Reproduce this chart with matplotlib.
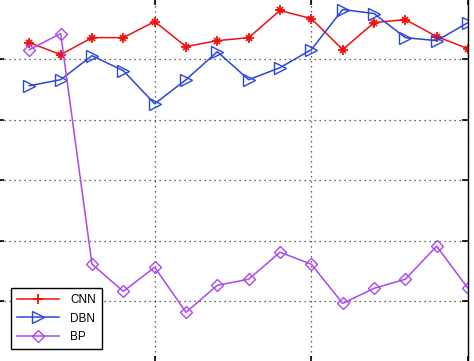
import numpy as np
from matplotlib import pyplot as plt

# sample index along x
x = np.arange(1, 16)

# values (y axis labels are cropped away)
cnn = [96.36, 95.37, 96.77, 96.77, 98.10, 96.03, 96.52, 96.77, 99.01, 98.34,
       95.78, 98.01, 98.26, 96.86, 95.86]
dbn = [92.80, 93.30, 95.28, 94.04, 91.31, 93.30, 95.61, 93.30, 94.29, 95.78,
       99.09, 98.76, 96.77, 96.52, 98.01]
bp = [95.78, 97.10, 78.07, 75.83, 77.82, 74.10, 76.33, 76.83, 79.06, 78.07,
      74.84, 76.08, 76.83, 79.56, 76.08]

labels = ["CNN", "DBN", "BP"]

plt.rcParams['font.family'] = ['Liberation Sans', 'DejaVu Sans']

W, H = 474, 361
fig = plt.figure(figsize=(W / 100, H / 100), dpi=100)
# the original figure is cropped: axes run past the top, left and bottom edges
ax = fig.add_axes([-2 / W, -1 / H, 470 / W, 363.5 / H])

red = '#f01010'
# MATLAB-style asterisk = plus + cross on top of each other
ax.plot(x, cnn, color=red, marker='+', markersize=7, markeredgewidth=1.3,
        linewidth=1.1, label=labels[0])
ax.plot(x, cnn, color=red, marker='x', markersize=5, markeredgewidth=1.3,
        linestyle='none')
ax.plot(x, dbn, color='#2a45d8', marker='>', markersize=8, markerfacecolor='none',
        markeredgewidth=1.0, linewidth=1.1, label=labels[1])
ax.plot(x, bp, color='#a848f0', marker='D', markersize=6.5, markerfacecolor='none',
        markeredgewidth=1.0, linewidth=1.1, label=labels[2])

ax.set_xlim(0, 15)
ax.set_ylim(70, 100)
ax.set_xticks([0, 5, 10, 15])
ax.set_yticks([70, 75, 80, 85, 90, 95, 100])
ax.grid(True, linestyle=(0, (1, 3)), color='#333333', linewidth=0.9)
ax.tick_params(direction='in', length=4.5, width=1.2, top=True, right=True,
               labelbottom=False, labelleft=False)
for s in ax.spines.values():
    s.set_linewidth(1.0)

leg = ax.legend(loc='lower left', bbox_to_anchor=(11 / W, 12 / H),
                bbox_transform=fig.transFigure, borderaxespad=0,
                fancybox=False, framealpha=1, edgecolor='black', fontsize=8.5,
                handlelength=3.6, handletextpad=0.9, labelspacing=0.55,
                borderpad=0.5)
leg.get_frame().set_linewidth(1.0)

plt.savefig("out.png", dpi=100)
plt.close()
